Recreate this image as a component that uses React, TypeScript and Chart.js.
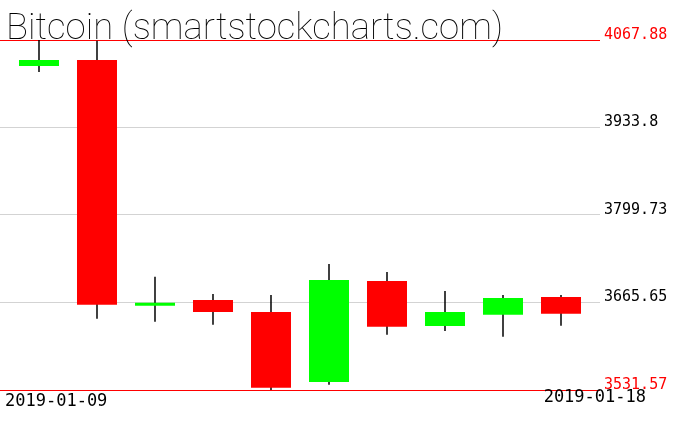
import React, { useEffect, useRef } from 'react';
import { Chart, registerables } from 'chart.js';

Chart.register(...registerables);

const title = 'Bitcoin (smartstockcharts.com)';
const dates = ['2019-01-09', '2019-01-10', '2019-01-11', '2019-01-12', '2019-01-13', '2019-01-14', '2019-01-15', '2019-01-16', '2019-01-17', '2019-01-18'];
const opens = [4028.0, 4037.2, 3660.8, 3669.5, 3651.1, 3543.8, 3698.6, 3629.6, 3647.0, 3674.1];
const highs = [4067.88, 4066.9, 3705.2, 3678.7, 3677.1, 3724.6, 3712.4, 3683.3, 3677.1, 3677.1];
const lows = [4018.9, 3640.8, 3636.2, 3631.6, 3531.57, 3539.7, 3616.3, 3622.0, 3613.3, 3630.1];
const closes = [4037.2, 3662.3, 3665.3, 3651.1, 3535.1, 3700.1, 3628.6, 3651.1, 3672.6, 3648.5];
const yTicks = [3531.57, 3665.65, 3799.73, 3933.8, 4067.88];
const yTickLabels = ['3531.57', '3665.65', '3799.73', '3933.8', '4067.88'];
const xTickLabels = [dates[0], dates[dates.length - 1]];

const UP = '#00ff00';
const DOWN = '#ff0000';
const EDGE = '#ff0000';
const GRID = '#d3d3d3';

const textPlugin = {
  id: 'texts',
  afterDraw(chart: any) {
    const { ctx, chartArea } = chart;
    ctx.save();
    ctx.fillStyle = '#000';
    ctx.textAlign = 'left';
    ctx.textBaseline = 'alphabetic';
    ctx.font = '100 36px Roboto';
    const w = ctx.measureText(title).width;
    ctx.translate(chartArea.left + 6, chartArea.top - 1);
    ctx.scale(497 / w, 1);
    ctx.fillText(title, 0, 0);
    ctx.restore();

    ctx.save();
    ctx.fillStyle = '#000';
    ctx.font = '17px "DejaVu Sans Mono"';
    ctx.textBaseline = 'alphabetic';
    ctx.textAlign = 'left';
    ctx.fillText(xTickLabels[0], chartArea.left + 5, chartArea.bottom + 16);
    ctx.textAlign = 'right';
    ctx.fillText(xTickLabels[1], chartArea.right + 46, chartArea.bottom + 12);
    ctx.restore();
  },
};

export default function App() {
  const ref = useRef<HTMLCanvasElement>(null);
  useEffect(() => {
    const n = dates.length;
    const wickData = dates.map((_, i) => ({ x: i, y: [lows[i], highs[i]] }));
    const bodyData = dates.map((_, i) => ({ x: i, y: [opens[i], closes[i]] }));
    const bodyColors = dates.map((_, i) => (closes[i] >= opens[i] ? UP : DOWN));
    const last = yTicks.length - 1;
    const chart = new Chart(ref.current!, {
      type: 'bar',
      data: {
        datasets: [
          {
            label: 'body',
            data: bodyData as any,
            backgroundColor: bodyColors,
            borderWidth: 0,
            grouped: false,
            maxBarThickness: 40,
            order: 1,
          } as any,
          {
            label: 'wick',
            data: wickData as any,
            backgroundColor: '#000',
            borderWidth: 0,
            grouped: false,
            maxBarThickness: 1.5,
            order: 2,
          } as any,
        ],
      },
      options: {
        responsive: false,
        animation: false,
        devicePixelRatio: 1,
        layout: { padding: { top: 40, bottom: 41, left: 0, right: 0 } },
        plugins: { legend: { display: false }, tooltip: { enabled: false }, title: { display: false } },
        scales: {
          x: {
            type: 'linear',
            display: false,
            offset: false,
            min: -0.6724,
            max: n - 1 + 0.6724,
          },
          y: {
            type: 'linear',
            position: 'right',
            min: yTicks[0],
            max: yTicks[last],
            z: 1,
            afterBuildTicks: (axis: any) => {
              axis.ticks = yTicks.map((v) => ({ value: v }));
            },
            afterFit: (axis: any) => {
              axis.width = 76;
            },
            grid: {
              drawTicks: false,
              lineWidth: 1,
              color: (c: any) => (c.index === 0 || c.index === last ? EDGE : GRID),
            },
            border: { display: false },
            ticks: {
              autoSkip: false,
              padding: 4,
              labelOffset: -5,
              crossAlign: 'near',
              font: { family: 'DejaVu Sans Mono', size: 15 },
              color: (c: any) => (c.index === 0 || c.index === last ? EDGE : '#000'),
              callback: (_v: any, i: number) => yTickLabels[i],
            },
          },
        },
      } as any,
      plugins: [textPlugin],
    });
    return () => chart.destroy();
  }, []);
  return (
    <div style={{ position: 'fixed', left: 0, top: 0, width: 676, height: 431, background: '#fff' }}>
      <canvas ref={ref} width={676} height={431} style={{ display: 'block' }} />
    </div>
  );
}
